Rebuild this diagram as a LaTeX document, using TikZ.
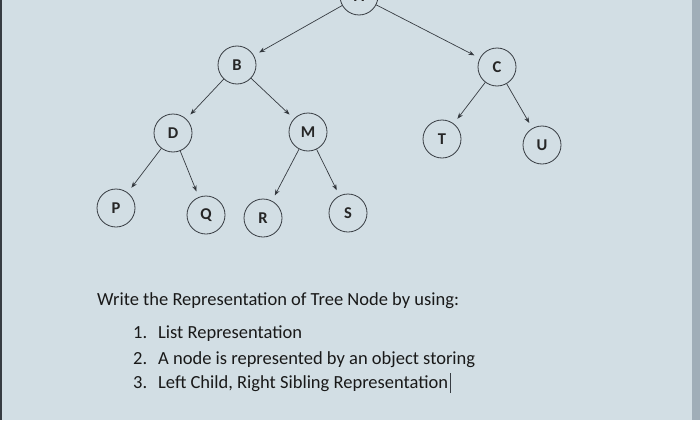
\documentclass[tikz,border=0pt]{standalone}
\usepackage{fontspec}
\newfontfamily\calibri{Carlito}
\usetikzlibrary{arrows.meta, positioning}
\definecolor{screen}{RGB}{210,222,228}
\definecolor{bezel}{RGB}{160,174,184}
\definecolor{ink}{RGB}{55,60,66}

\begin{document}
\begin{tikzpicture}[x=1pt, y=-1pt, font=\calibri]
        \tikzstyle{tnode}=[draw=ink, line width=.8pt, circle, minimum size=38pt, inner sep=0pt, font=\calibri\fontsize{16.5}{16.5}\selectfont\bfseries, text=black!85];
        \tikzstyle{link}=[draw=ink, line width=.7pt, -{Stealth[length=6pt, width=4.5pt]}, shorten >=6pt];
        \tikzstyle{txt}=[anchor=base west, inner sep=0pt, font=\calibri\fontsize{18.5}{22}\selectfont, text=black!90];

        \useasboundingbox (0,0) rectangle (700,420);
        \fill[screen] (0,0) rectangle (700,420);
        \fill[bezel] (692,0) rectangle (700,420);
        \fill[ink] (0,0) rectangle (1.5,420);

        % tree
        \node[tnode] (A) at (359,-4) {A};
        \node[tnode] (B) at (237,65) {B};
        \node[tnode] (C) at (497,67) {C};
        \node[tnode] (D) at (173,133) {D};
        \node[tnode] (M) at (308,132) {M};
        \node[tnode] (T) at (442,139) {T};
        \node[tnode] (U) at (542,145) {U};
        \node[tnode] (P) at (116,208) {P};
        \node[tnode] (Q) at (206,215) {Q};
        \node[tnode] (R) at (263,218) {R};
        \node[tnode] (S) at (348,213) {S};

        \path[link]
        (A) edge (B)
        (A) edge (C)
        (B) edge (D)
        (B) edge (M)
        (C) edge (T)
        (C) edge (U)
        (D) edge (P)
        (D) edge (Q)
        (M) edge (R)
        (M) edge (S);

        % question text
        \node[txt] (head) at (97,305) {Write the Representation of Tree Node by using:};
        \node[txt] (n1) at (133,338) {1.};
        \node[txt] (n2) at (133,364) {2.};
        \node[txt] (n3) at (133,388) {3.};
        \node[txt] (i1) at (158,338) {List Representation};
        \node[txt] (i2) at (158,364) {A node is represented by an object storing};
        \node[txt] (i3) at (158,388) {Left Child, Right Sibling Representation};
        \draw[ink, line width=.6pt] ([xshift=1.5pt, yshift=-5pt]i3.base east) -- ++(0,-20);
\end{tikzpicture}
\end{document}
